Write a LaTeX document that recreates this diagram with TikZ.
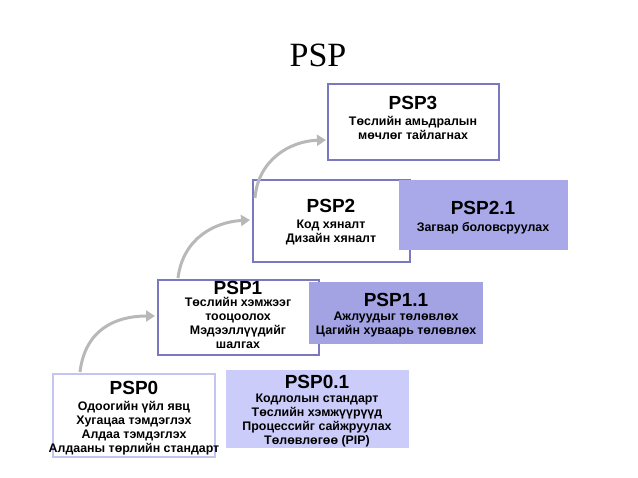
\documentclass[tikz,border=0pt]{standalone}
\usepackage{fontspec}
\setmainfont{Liberation Sans}
\newfontfamily\serif{Liberation Serif}
\usetikzlibrary{arrows.meta}
\definecolor{fa}{HTML}{A9A9EA}
\definecolor{fb}{HTML}{A3A3E4}
\definecolor{fc}{HTML}{CCCCFA}
\definecolor{ba}{HTML}{7A78BE}
\definecolor{bc}{HTML}{C4C4F2}
\tikzset{
 wbox/.style={draw=ba,line width=1.2pt,fill=white},
 hd/.style={font=\bfseries\fontsize{19}{20}\selectfont},
 bd/.style={font=\bfseries\fontsize{12.4}{14}\selectfont,align=center,inner sep=0pt},
 arr/.style={draw=black!28,line width=3pt,-{Triangle[length=9pt,width=11pt]}}
}
\begin{document}
\begin{tikzpicture}[x=1pt,y=-1pt]
\useasboundingbox (0,0) rectangle (638,478);
\node[font=\serif\fontsize{34}{36}\selectfont] (title) at (318,55) {PSP};
% boxes
\draw[wbox] (328,84) rectangle (499,160);
\node[hd] (h3) at (413,103) {PSP3};
\node[bd] (b3) at (413,128) {Төслийн амьдралын\\мөчлөг тайлагнах};
\draw[wbox] (253,180) rectangle (410,262);
\node[hd] (h2) at (331,206) {PSP2};
\node[bd] (b2) at (331,232) {Код хяналт\\Дизайн хяналт};
\fill[fa] (399,180) rectangle (568,250);
\node[hd] (h21) at (483,208) {PSP2.1};
\node[bd] (b21) at (483,228) {Загвар боловсруулах};
\draw[wbox] (158,280) rectangle (319,355);
\node[hd] (h1) at (238,288) {PSP1};
\node[bd] (b1) at (238,323) {Төслийн хэмжээг\\тооцоолох\\Мэдээллүүдийг\\шалгах};
\fill[fb] (309,282) rectangle (483,344);
\node[hd] (h11) at (396,300) {PSP1.1};
\node[bd] (b11) at (396,325) {Ажлуудыг төлөвлөх\\Цагийн хуваарь төлөвлөх};
\draw[draw=bc,line width=1.2pt,fill=white] (53,374) rectangle (215,457);
\node[hd] (h0) at (134,388) {PSP0};
\node[bd] (b0) at (134,428) {Одоогийн үйл явц\\Хугацаа тэмдэглэх\\Алдаа тэмдэглэх\\Алдааны төрлийн стандарт};
\fill[fc] (226,370) rectangle (409,448);
\node[hd] (h01) at (317,382) {PSP0.1};
\node[bd] (b01) at (317,421) {Кодлолын стандарт\\Төслийн хэмжүүрүүд\\Процессийг сайжруулах\\Төлөвлөгөө (PIP)};
% arrows
\coordinate (a0) at (80,372); \coordinate (e0) at (155,316);
\coordinate (a1) at (178,278); \coordinate (e1) at (250,220);
\coordinate (a2) at (255,198); \coordinate (e2) at (326,140);
\draw[arr] (a0) .. controls (85,330) and (115,316) .. (e0);
\draw[arr] (a1) .. controls (183,238) and (215,222) .. (e1);
\draw[arr] (a2) .. controls (258,160) and (290,141) .. (e2);
\end{tikzpicture}
\end{document}
